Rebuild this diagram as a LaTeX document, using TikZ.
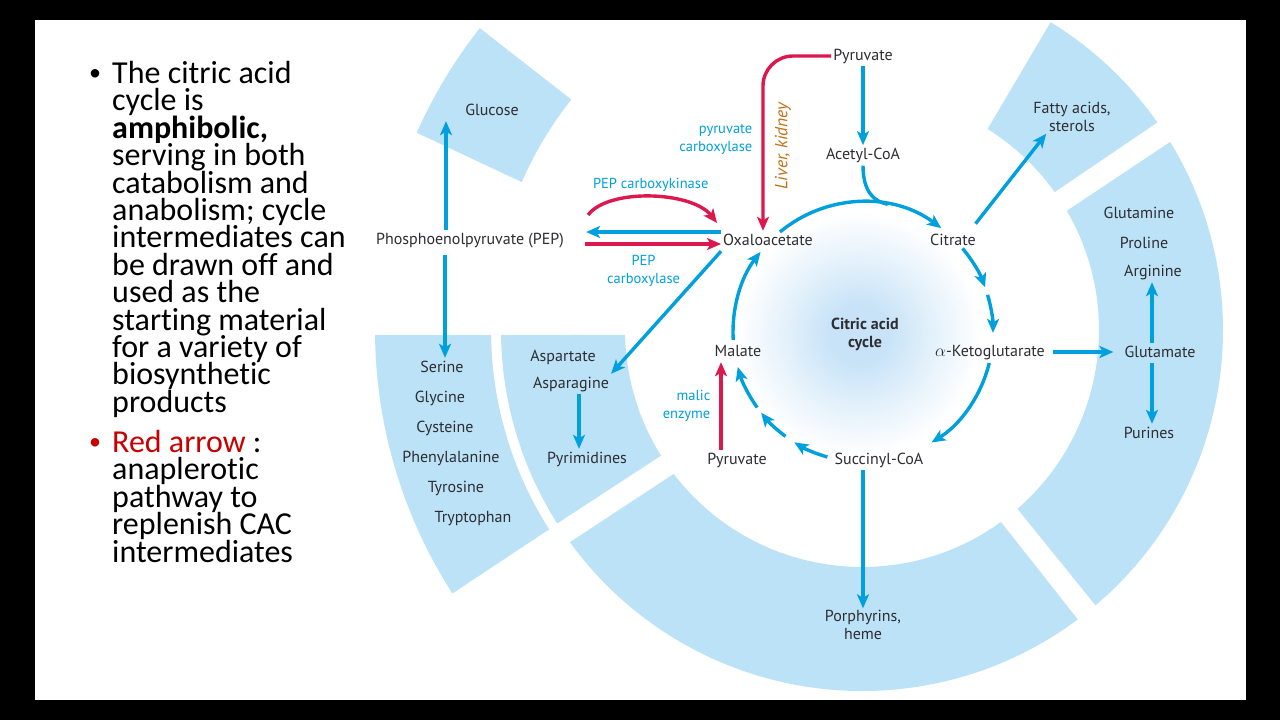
\documentclass[tikz,border=0pt]{standalone}
\usepackage{fontspec}
\usepackage{xcolor}
\usepackage{tikz}
\usetikzlibrary{arrows.meta, positioning, calc}

\newfontfamily\diagfont{PT Sans}
\newfontfamily\slidefont[Ligatures=NoCommon]{Carlito}

\definecolor{secblue}{RGB}{187,226,246}
\definecolor{cycfill}{RGB}{200,227,247}
\definecolor{arrblue}{RGB}{0,160,222}
\definecolor{arrred}{RGB}{221,24,78}
\definecolor{txtdark}{RGB}{45,45,50}
\definecolor{liverbrown}{RGB}{192,112,24}
\definecolor{slidered}{RGB}{200,0,0}

\pgfdeclareradialshading{cycshade}{\pgfpoint{0bp}{0bp}}{color(0bp)=(cycfill); color(6bp)=(cycfill); color(16bp)=(cycfill!45!white); color(25bp)=(white); color(50bp)=(white)}

\begin{document}
\begin{tikzpicture}[x=1pt, y=-1pt,
    sector/.style={fill=secblue},
    item/.style={font={\diagfont\fontsize{16}{18}\selectfont}, text=txtdark, inner sep=2pt, text height=12pt, text depth=4pt},
    item2/.style={font={\diagfont\fontsize{16}{17.5}\selectfont}, text=txtdark, inner sep=2pt, align=center},
    enzyme/.style={font={\diagfont\fontsize{14.5}{18}\selectfont}, text=arrblue, inner sep=2pt},
    slide/.style={font={\slidefont\fontsize{32}{27.4}\selectfont\lineskiplimit=-30pt}, inner sep=0pt, align=left, anchor=north west},
    dot/.style={font={\slidefont\fontsize{24}{24}\selectfont}, inner sep=0pt, anchor=base},
    bpath/.style={draw=arrblue, line width=3.4pt},
    bline/.style={bpath, -{Stealth[length=14pt, width=12pt, inset=3.5pt]}},
    rline/.style={bline, draw=arrred}]

    \useasboundingbox (0,0) rectangle (1280,720);
    \fill[black] (0,0) rectangle (1280,720);
    \fill[white] (35,20) rectangle (1246,700);

    \coordinate (rc) at (862,330);
    \coordinate (cc) at (863,332);

    \fill[sector] ([shift={(-58:237)}]rc) arc[start angle=-58, end angle=-35.6, radius=237] -- ([shift={(-35.1:361)}]rc) arc[start angle=-35.1, end angle=-58.5, radius=361] -- cycle;
    \fill[sector] ([shift={(-30.2:237)}]rc) arc[start angle=-30.2, end angle=49, radius=237] -- ([shift={(49.7:361)}]rc) arc[start angle=49.7, end angle=-31.4, radius=361] -- cycle;
    \fill[sector] ([shift={(54.1:237)}]rc) arc[start angle=54.1, end angle=142.6, radius=237] -- ([shift={(144:361)}]rc) arc[start angle=144, end angle=53.3, radius=361] -- cycle;
    \fill[sector] ([shift={(148:237)}]rc) arc[start angle=148, end angle=178.8, radius=237] -- ([shift={(179.2:361)}]rc) arc[start angle=179.2, end angle=147.6, radius=361] -- cycle;
    \fill[sector] ([shift={(-156.5:371)}]rc) arc[start angle=-156.5, end angle=-141.6, radius=371] -- ([shift={(-141.7:487)}]rc) arc[start angle=-141.7, end angle=-156.1, radius=487] -- cycle;
    \fill[sector] ([shift={(147.5:371)}]rc) arc[start angle=147.5, end angle=179.2, radius=371] -- ([shift={(179.4:487)}]rc) arc[start angle=179.4, end angle=147.25, radius=487] -- cycle;

    \path[shading=cycshade] ([shift={(-4,2)}]cc) circle (122);

    \node[slide] (intro) at (112,61) {The citric acid\\cycle is\\\textbf{amphibolic,}\\serving in both\\catabolism and\\anabolism; cycle\\intermediates can\\be drawn off and\\used as the\\starting material\\for a variety of\\biosynthetic\\products};
    \node[dot] (dot1) at (95,80) {•};
    \node[slide] (aside) at (112,430) {\textcolor{slidered}{Red arrow} :\\anaplerotic\\pathway to\\replenish CAC\\intermediates};
    \node[dot, text=slidered] (dot2) at (95,449) {•};

    \node[item] (pyr) at (863,56) {Pyruvate};
    \node[item, below=79pt of pyr] (acoa) {Acetyl-CoA};
    \node[item] (oaa) at (768,241) {Oxaloacetate};
    \node[item] (cit) at (953,241) {Citrate};
    \node[item] (akg) at (990,352) {$\alpha$-Ketoglutarate};
    \node[item] (suc) at (879,460) {Succinyl-CoA};
    \node[item] (mal) at (738,352) {Malate};
    \node[item] (pyrb) at (737,460) {Pyruvate};
    \node[item2, font={\diagfont\bfseries\fontsize{16}{18}\selectfont}] (cac) at (865,334) {Citric acid\\cycle};

    \node[item] (pep) at (470,240) {Phosphoenolpyruvate (PEP)};
    \node[item] (glc) at (492,111) {Glucose};
    \node[item] (ser) at (442,368) {Serine};
    \node[item] (gly) at (440,398) {Glycine};
    \node[item] (cys) at (445,428) {Cysteine};
    \node[item] (phe) at (451,458) {Phenylalanine};
    \node[item] (tyr) at (456,488) {Tyrosine};
    \node[item] (trp) at (473,518) {Tryptophan};
    \node[item] (asp) at (563,357) {Aspartate};
    \node[item] (asn) at (571,384) {Asparagine};
    \node[item] (pyd) at (587,459) {Pyrimidines};

    \node[item2] (fat) at (1072,117) {Fatty acids,\\sterols};
    \node[item] (gln) at (1139,214) {Glutamine};
    \node[item] (pro) at (1144,244) {Proline};
    \node[item] (arg) at (1153,272) {Arginine};
    \node[item] (glu) at (1160,353) {Glutamate};
    \node[item] (pur) at (1149,434) {Purines};
    \node[item2] (por) at (863,625) {Porphyrins,\\heme};

    \node[font={\diagfont\itshape\fontsize{17.5}{18}\selectfont}, text=liverbrown, rotate=90] (liv) at (783,146) {Liver, kidney};

    \path[bline] (pyr) -- (acoa);
    \path[bpath] (acoa.south) .. controls +(0,26) and +(-14,-3) .. ([shift={(-79:130)}]cc);

    \path[bline] ([shift={(-129.7:130)}]cc) arc[start angle=-129.7, end angle=-53, radius=130];
    \path[bline] ([shift={(-40:130)}]cc) arc[start angle=-40, end angle=-20.1, radius=130];
    \path[bline] ([shift={(-16.6:130)}]cc) arc[start angle=-16.6, end angle=0.4, radius=130];
    \path[bline] ([shift={(13.8:130)}]cc) arc[start angle=13.8, end angle=58.2, radius=130];
    \path[bline] ([shift={(105.9:130)}]cc) arc[start angle=105.9, end angle=121.9, radius=130];
    \path[bline] ([shift={(126.6:130)}]cc) arc[start angle=126.6, end angle=141.6, radius=130];
    \path[bline] ([shift={(144.5:130)}]cc) arc[start angle=144.5, end angle=164.4, radius=130];
    \path[bline] ([shift={(176.5:130)}]cc) arc[start angle=176.5, end angle=218, radius=130];

    \path[bline, shorten <=9pt] ([xshift=-8pt]cit.north east) -- ([xshift=15pt]fat.south west);
    \path[bline, shorten <=6pt, shorten >=9pt] (akg.east) -- (akg.east -| glu.west);
    \path[bline] ([xshift=-8pt]glu.north) -- ([xshift=-8pt]glu.north |- arg.south);
    \path[bline] ([xshift=-8pt]glu.south) -- ([xshift=-8pt]glu.south |- pur.north);
    \path[bline] ([xshift=-16pt]suc.south) -- ([xshift=-16pt]suc.south |- por.north);
    \path[bline] ([xshift=8pt]asn.south) -- ([xshift=8pt]asn.south |- pyd.north);
    \path[bline] (oaa.south west) -- (asn.north east);
    \path[bline] ([xshift=-24pt]pep.north) -- ([xshift=-24pt]pep.north |- glc.south);
    \path[bline, shorten <=5pt] ([xshift=-25pt]pep.south) -- ([xshift=-25pt]pep.south |- ser.north);
    \path[bline, shorten >=20pt] ([yshift=9pt]oaa.west) -- ([yshift=9pt]oaa.west -| pep.east);

    \path[rline, shorten <=19pt] ([yshift=-4pt]pep.east) -- ([yshift=-4pt]pep.east -| oaa.west) node[enzyme, midway, below=8pt, align=center] {PEP\\carboxylase};
    \path[rline] ([shift={(22,-25)}]pep.east) .. controls +(20,-27) and +(-25,-32) .. ([shift={(-4,-18)}]oaa.west) node[enzyme, pos=0.5, above=2pt] {PEP carboxykinase};
    \path[rline, rounded corners=30pt] (pyr.west) -| ([xshift=-5pt]oaa.north) node[enzyme, pos=0.74, left=7pt, align=right] {pyruvate\\carboxylase};
    \path[rline] ([xshift=-16pt]pyrb.north) -- ([xshift=-16pt]pyrb.north |- mal.south) node[enzyme, midway, left=7pt, align=right] {malic\\enzyme};
\end{tikzpicture}
\end{document}
